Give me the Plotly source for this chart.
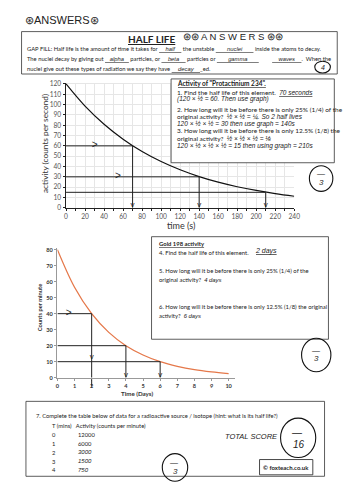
import plotly.graph_objects as go

W, H = 354, 500

# ---------------- data ----------------
pa_time = [0, 20, 40, 60, 80, 100, 120, 140, 160, 180, 200, 220, 240]
pa_activity = [120, 98.5, 81, 66.5, 54.5, 44.8, 36.8, 30.2, 24.8, 20.4, 16.8, 13.8, 11.2]
pa_half_times = [70, 140, 210]
pa_levels = [60, 30, 15]

au_days = [0, 1, 2, 3, 4, 5, 6, 7, 8, 9, 10]
au_counts = [80, 56.5, 40, 28.3, 20, 14.2, 10, 7.1, 5.0, 3.6, 2.6]
au_half_times = [2, 4, 6]
au_levels = [40, 20, 10]

table_t = ["0", "1", "2", "3", "4"]
table_activity = ["12000", "6000", "3000", "1500", "750"]

PRINT = "Lato"
HAND = "Liberation Sans"
NB = "\u00a0"


def px(x):
    return x / W


def py(y):
    return 1 - y / H


fig = go.Figure()

# ---------- chart 1 : Protactinium ----------
fig.add_trace(go.Scatter(x=pa_time, y=pa_activity, mode="lines", line=dict(color="#111", width=1.2, shape="spline"),
                         xaxis="x", yaxis="y", hoverinfo="skip"))
for t, a in zip(pa_half_times, pa_levels):
    fig.add_trace(go.Scatter(x=[0, t, t], y=[a, a, 0], mode="lines", line=dict(color="#222", width=1),
                             xaxis="x", yaxis="y", hoverinfo="skip"))
# arrow heads (hand drawn)
fig.add_trace(go.Scatter(x=[pa_half_times[0] * 0.43, pa_half_times[1] * 0.39], y=[pa_levels[0], pa_levels[1]],
                         mode="text", text=[">", ">"], textfont=dict(size=10, color="#222", family=HAND),
                         xaxis="x", yaxis="y", cliponaxis=False, hoverinfo="skip"))
fig.add_trace(go.Scatter(x=pa_half_times, y=[2.5, 2.5, 2.5], mode="text", text=["v", "v", "v"],
                         textfont=dict(size=8, color="#222", family=HAND),
                         xaxis="x", yaxis="y", cliponaxis=False, hoverinfo="skip"))

# ---------- chart 2 : Gold 198 ----------
fig.add_trace(go.Scatter(x=au_days, y=au_counts, mode="lines", line=dict(color="#e5784a", width=1.3, shape="spline"),
                         xaxis="x2", yaxis="y2", hoverinfo="skip"))
for t, a in zip(au_half_times, au_levels):
    fig.add_trace(go.Scatter(x=[0, t, t], y=[a, a, 0], mode="lines", line=dict(color="#222", width=1),
                             xaxis="x2", yaxis="y2", hoverinfo="skip"))
fig.add_annotation(x=au_half_times[0], y=-5.5, ax=au_half_times[0], ay=0, xref="x2", yref="y2",
                   axref="x2", ayref="y2", showarrow=True, arrowhead=0, arrowwidth=1, arrowcolor="#222", text="")
fig.add_trace(go.Scatter(x=[au_half_times[0] * 0.33], y=[au_levels[0]], mode="text", text=[">"],
                         textfont=dict(size=10, color="#222", family=HAND),
                         xaxis="x2", yaxis="y2", cliponaxis=False, hoverinfo="skip"))
fig.add_trace(go.Scatter(x=au_half_times, y=[13, 1.5, 1.5], mode="text", text=["v", "v", "v"],
                         textfont=dict(size=8, color="#222", family=HAND),
                         xaxis="x2", yaxis="y2", cliponaxis=False, hoverinfo="skip"))

x1_ticks = list(range(0, 241, 10))
x1_text = [str(v) if v % 20 == 0 else "" for v in x1_ticks]
y1_ticks = list(range(0, 121, 10))

fig.update_layout(
    width=W, height=H, margin=dict(l=0, r=0, t=0, b=0),
    paper_bgcolor="white", plot_bgcolor="white", showlegend=False,
    xaxis=dict(domain=[px(65.5), px(299)], range=[0, 240], tickvals=x1_ticks, ticktext=x1_text,
               ticks="outside", ticklen=2.5, tickcolor="#222", showline=True, linecolor="#222", linewidth=1,
               showgrid=True, gridcolor="#e6e6e6", gridwidth=0.6, zeroline=False,
               tickfont=dict(size=6.6, color="#555", family=PRINT), anchor="y", fixedrange=True),
    yaxis=dict(domain=[py(206.7), py(80)], range=[0, 121], tickvals=y1_ticks,
               ticks="outside", ticklen=2.5, tickcolor="#222", showline=True, linecolor="#222", linewidth=1,
               showgrid=True, gridcolor="#e6e6e6", gridwidth=0.6, zeroline=False,
               tickfont=dict(size=6.6, color="#555", family=PRINT), anchor="x", fixedrange=True),
    xaxis2=dict(domain=[px(56.7), px(238)], range=[0, 10.35], tickvals=list(range(0, 11)),
                ticks="outside", ticklen=2.5, tickcolor="#999", showline=True, linecolor="#999", linewidth=1,
                showgrid=False, zeroline=False,
                tickfont=dict(size=5.6, color="#333", family=PRINT, weight="bold"), anchor="y2", fixedrange=True),
    yaxis2=dict(domain=[py(379), py(247.5)], range=[0, 81], tickvals=list(range(0, 81, 10)),
                ticks="outside", ticklen=2.5, tickcolor="#999", showline=True, linecolor="#999", linewidth=1,
                showgrid=False, zeroline=False,
                tickfont=dict(size=5.6, color="#333", family=PRINT, weight="bold"), anchor="x2", fixedrange=True),
)


def txt(x, y, s, size=6, anchor="left", family=PRINT, color="#222", angle=0):
    fig.add_annotation(x=px(x), y=py(y), xref="paper", yref="paper", text=s, showarrow=False,
                       xanchor=anchor, yanchor="middle", textangle=angle,
                       font=dict(size=size, family=family, color=color), borderpad=0)


def rect(x0, y0, x1, y1, fill="rgba(0,0,0,0)", width=0.8, color="#333"):
    fig.add_shape(type="rect", xref="paper", yref="paper", x0=px(x0), x1=px(x1), y0=py(y1), y1=py(y0),
                  line=dict(color=color, width=width), fillcolor=fill, layer="above")


def circle(cx, cy, rx, ry):
    fig.add_shape(type="circle", xref="paper", yref="paper", x0=px(cx - rx), x1=px(cx + rx),
                  y0=py(cy + ry), y1=py(cy - ry), line=dict(color="#111", width=1.1), layer="above")


def hw(s, pad=0):
    p = NB * pad
    return ("<span style='font-family:Liberation Sans;font-style:italic;text-decoration:underline'>"
            + p + s + p + "</span>")


def hwn(s):
    return "<span style='font-family:Liberation Sans;font-style:italic'>" + s + "</span>"


# axis titles
txt(44, 142, "activity (counts per second)", size=8.3, anchor="center", color="#333", angle=-90)
txt(183, 225, "time (s)", size=9, anchor="center", color="#333")
txt(38.5, 308, "<b>Counts per minute</b>", size=5.8, anchor="center", color="#333", angle=-90)
txt(138, 395.5, "<b>Time (Days)</b>", size=6.2, anchor="center", color="#333")

# header
GF = 5.8
txt(22, 16, "⊛ANSWERS⊛", size=11, family=HAND, color="#222")
rect(20, 28, 343, 71)
txt(153, 36, "<b><span style='text-decoration:underline'>HALF LIFE</span></b>", size=10, anchor="center")
txt(184, 33, "⊛⊛ A N S W E R S ⊛⊛", size=9.5, family=HAND)
txt(25, 45, "GAP FILL: Half life is the amount of time it takes for " + hw("half", 4) +
    " the unstable " + hw("nuclei", 7) + " inside the atoms to decay.", size=GF)
txt(25, 55, "The nuclei decay by giving out " + hw("alpha", 3) + " particles, or " + hw("beta", 4) +
    " particles or " + hw("gamma", 7) + NB * 9 + hw("waves", 4) + ".  When the", size=GF)
txt(25, 65, "nuclei give out these types of radiation we say they have " + hw("decay", 4) + "_ed.", size=GF)
circle(328, 64, 8, 6)
txt(328, 64, hwn("4"), size=7, anchor="center")

# Protactinium box
PS = 6.5
rect(173, 76, 340, 161, fill="white")
txt(178, 80.5, "<b><span style='text-decoration:underline'>Activity of \"Protactinium 234\".</span></b>", size=PS)
txt(178, 89.5, "1. Find the half life of this element.  " + hw("70 seconds"), size=PS)
txt(178, 96.5, hwn("(120 × ½ = 60. Then use graph)"), size=PS)
txt(178, 107.5, "2. How long will it be before there is only 25% (1/4) of the", size=PS)
txt(178, 114.5, "original activity?  " + hwn("½ × ½ = ¼. So 2 half lives"), size=PS)
txt(178, 121.5, hwn("120 × ½ × ½ = 30 then use graph = 140s"), size=PS)
txt(178, 128.5, "3. How long will it be before there is only 12.5% (1/8) the", size=PS)
txt(178, 136, "original activity?  " + hwn("½ × ½ × ½ = ⅛"), size=PS)
txt(178, 144, hwn("120 × ½ × ½ × ½ = 15 then using graph = 210s"), size=PS)
circle(326.5, 177, 12, 13)
txt(326.5, 172, hwn("—"), size=8, anchor="center")
txt(327, 181, hwn("3"), size=8, anchor="center")

# Gold box
GS = 5.9
rect(153, 236, 334, 340)
txt(159.5, 243, "<b><span style='text-decoration:underline'>Gold 198 activity</span></b>", size=GS)
txt(159.5, 252, "4. Find the half life of this element.", size=GS)
txt(258, 251, hw("2 days"), size=7)
txt(159.5, 270, "5. How long will it be before there is only 25% (1/4) of the", size=GS)
txt(159.5, 279.5, "original activity?  " + hwn("4 days"), size=GS)
txt(159.5, 306.5, "6. How long will it be before there is only 12.5% (1/8) the original", size=GS)
txt(159.5, 316, "activity?  " + hwn("6 days"), size=GS)
circle(321.5, 356, 15, 17)
txt(321.5, 351, hwn("—"), size=8, anchor="center")
txt(322, 360, hwn("3"), size=8, anchor="center")

# Table box
rect(24.5, 403, 330, 479)
txt(34, 417.5, "7. Complete the table below of data for a radioactive source / isotope (hint: what is its half life?)", size=5.8)
txt(50, 427, "T (mins)   Activity (counts per minute)", size=5.8)
rows_y = [436.5, 445.5, 454.5, 463.5, 472.5]
for i, (t, a) in enumerate(zip(table_t, table_activity)):
    txt(50, rows_y[i], t, size=5.8)
    if i < 2:
        txt(77, rows_y[i], a, size=5.8)
    else:
        txt(77, rows_y[i], hwn(a), size=6)
txt(227, 439, hwn("TOTAL SCORE"), size=7.5)
circle(303, 440, 18, 20)
txt(302, 435, hwn("—"), size=10, anchor="center")
txt(304, 447, hwn("16"), size=10, anchor="center")
circle(177, 470, 13, 14)
txt(176, 465, hwn("—"), size=8, anchor="center")
txt(177, 474, hwn("3"), size=8, anchor="center")
rect(263.5, 462, 318, 477.5, width=0.9)
txt(290.5, 470, "<b>© foxteach.co.uk</b>", size=6, anchor="center")

fig.write_html("out.html")
